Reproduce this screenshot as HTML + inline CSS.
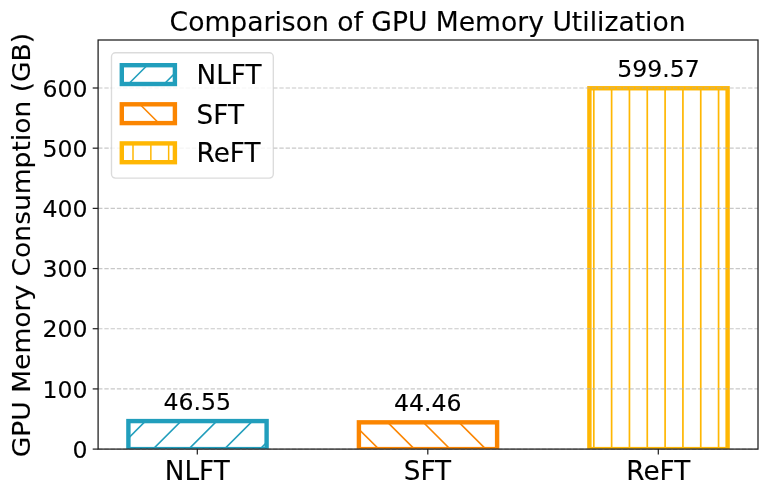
<!DOCTYPE html>
<html lang="en">
<head>
<meta charset="utf-8">
<title>Comparison of GPU Memory Utilization</title>
<style>
html,body{margin:0;padding:0;background:#fff;}
body{width:768px;height:496px;overflow:hidden;}
svg{display:block;}
</style>
</head>
<body>
<svg width="768" height="496" viewBox="0 0 768 496">
<rect width="768" height="496" fill="#fff"/>
<defs>
<clipPath id="ax"><rect x="98.1" y="40.0" width="659.9" height="409.1"/></clipPath>
</defs>
<g clip-path="url(#ax)">
<clipPath id="b0"><rect x="128.40" y="421.08" width="138.20" height="28.02"/></clipPath>
<rect x="128.40" y="421.08" width="138.20" height="28.02" fill="#fff"/>
<g clip-path="url(#b0)" stroke="#219ebc" stroke-width="1.6" fill="none">
<line x1="76.80" y1="454.10" x2="114.82" y2="416.08"/>
<line x1="112.45" y1="454.10" x2="150.47" y2="416.08"/>
<line x1="148.10" y1="454.10" x2="186.12" y2="416.08"/>
<line x1="183.75" y1="454.10" x2="221.77" y2="416.08"/>
<line x1="219.40" y1="454.10" x2="257.42" y2="416.08"/>
<line x1="255.05" y1="454.10" x2="293.07" y2="416.08"/>
<line x1="290.70" y1="454.10" x2="328.72" y2="416.08"/>
</g>
<rect x="128.40" y="421.08" width="138.20" height="28.02" fill="none" stroke="#219ebc" stroke-width="4.4"/>
<clipPath id="b1"><rect x="358.90" y="422.34" width="138.20" height="26.76"/></clipPath>
<rect x="358.90" y="422.34" width="138.20" height="26.76" fill="#fff"/>
<g clip-path="url(#b1)" stroke="#fb8500" stroke-width="1.6" fill="none">
<line x1="311.39" y1="417.34" x2="348.15" y2="454.10"/>
<line x1="347.04" y1="417.34" x2="383.80" y2="454.10"/>
<line x1="382.69" y1="417.34" x2="419.45" y2="454.10"/>
<line x1="418.34" y1="417.34" x2="455.10" y2="454.10"/>
<line x1="453.99" y1="417.34" x2="490.75" y2="454.10"/>
<line x1="489.64" y1="417.34" x2="526.40" y2="454.10"/>
<line x1="525.29" y1="417.34" x2="562.05" y2="454.10"/>
</g>
<rect x="358.90" y="422.34" width="138.20" height="26.76" fill="none" stroke="#fb8500" stroke-width="4.4"/>
<clipPath id="b2"><rect x="589.40" y="88.26" width="138.20" height="360.84"/></clipPath>
<rect x="589.40" y="88.26" width="138.20" height="360.84" fill="#fff"/>
<g clip-path="url(#b2)" stroke="#ffb703" stroke-width="1.7" fill="none">
<line x1="575.97" y1="83.26" x2="575.97" y2="454.10"/>
<line x1="593.80" y1="83.26" x2="593.80" y2="454.10"/>
<line x1="611.62" y1="83.26" x2="611.62" y2="454.10"/>
<line x1="629.45" y1="83.26" x2="629.45" y2="454.10"/>
<line x1="647.27" y1="83.26" x2="647.27" y2="454.10"/>
<line x1="665.10" y1="83.26" x2="665.10" y2="454.10"/>
<line x1="682.92" y1="83.26" x2="682.92" y2="454.10"/>
<line x1="700.75" y1="83.26" x2="700.75" y2="454.10"/>
<line x1="718.57" y1="83.26" x2="718.57" y2="454.10"/>
<line x1="736.40" y1="83.26" x2="736.40" y2="454.10"/>
</g>
<rect x="589.40" y="88.26" width="138.20" height="360.84" fill="none" stroke="#ffb703" stroke-width="4.4"/>
</g>
<g stroke="#b0b0b0" stroke-opacity="0.7" stroke-width="1.18" stroke-dasharray="4.36 1.89" fill="none">
<line x1="98.1" y1="449.10" x2="758.0" y2="449.10"/>
<line x1="98.1" y1="388.92" x2="758.0" y2="388.92"/>
<line x1="98.1" y1="328.73" x2="758.0" y2="328.73"/>
<line x1="98.1" y1="268.55" x2="758.0" y2="268.55"/>
<line x1="98.1" y1="208.37" x2="758.0" y2="208.37"/>
<line x1="98.1" y1="148.18" x2="758.0" y2="148.18"/>
<line x1="98.1" y1="88.00" x2="758.0" y2="88.00"/>
</g>
<rect x="98.1" y="40.0" width="659.9" height="409.1" fill="none" stroke="#1c1c1c" stroke-width="1.25"/>
<g stroke="#1c1c1c" stroke-width="1.2">
<line x1="92.69999999999999" y1="449.10" x2="98.1" y2="449.10"/>
<line x1="92.69999999999999" y1="388.92" x2="98.1" y2="388.92"/>
<line x1="92.69999999999999" y1="328.73" x2="98.1" y2="328.73"/>
<line x1="92.69999999999999" y1="268.55" x2="98.1" y2="268.55"/>
<line x1="92.69999999999999" y1="208.37" x2="98.1" y2="208.37"/>
<line x1="92.69999999999999" y1="148.18" x2="98.1" y2="148.18"/>
<line x1="92.69999999999999" y1="88.00" x2="98.1" y2="88.00"/>
<line x1="197.30" y1="449.1" x2="197.30" y2="454.5"/>
<line x1="427.80" y1="449.1" x2="427.80" y2="454.5"/>
<line x1="658.30" y1="449.1" x2="658.30" y2="454.5"/>
</g>
<g font-family="'DejaVu Sans', 'Liberation Sans', sans-serif" fill="#000" stroke="#000" stroke-width="0.12">
<text transform="translate(427.6,31.35) scale(1.031,1)" font-size="25.8" text-anchor="middle">Comparison of GPU Memory Utilization</text>
<text transform="translate(30.35,245.0) rotate(-90) scale(1.037,1)" font-size="25.6" text-anchor="middle">GPU Memory Consumption (GB)</text>
<text x="87.5" y="457.70" font-size="23.6" text-anchor="end">0</text>
<text x="87.5" y="397.52" font-size="23.6" text-anchor="end">100</text>
<text x="87.5" y="337.33" font-size="23.6" text-anchor="end">200</text>
<text x="87.5" y="277.15" font-size="23.6" text-anchor="end">300</text>
<text x="87.5" y="216.97" font-size="23.6" text-anchor="end">400</text>
<text x="87.5" y="156.78" font-size="23.6" text-anchor="end">500</text>
<text x="87.5" y="96.60" font-size="23.6" text-anchor="end">600</text>
<text transform="translate(197.30,480.0) scale(1.01,1)" font-size="26.0" text-anchor="middle">NLFT</text>
<text x="197.20" y="410.48" font-size="23.6" text-anchor="middle">46.55</text>
<text transform="translate(427.40,480.0) scale(1.01,1)" font-size="26.0" text-anchor="middle">SFT</text>
<text x="427.80" y="410.64" font-size="23.6" text-anchor="middle">44.46</text>
<text transform="translate(658.30,480.0) scale(1.01,1)" font-size="26.0" text-anchor="middle">ReFT</text>
<text x="658.50" y="77.06" font-size="23.6" text-anchor="middle">599.57</text>
</g>
<rect x="111.5" y="52.7" width="161.8" height="125.4" rx="4" ry="4" fill="#fff" fill-opacity="0.8" stroke="#ccc" stroke-opacity="0.7" stroke-width="1.35"/>
<clipPath id="l0"><rect x="121.8" y="65.20" width="53.10" height="18.8"/></clipPath>
<rect x="121.8" y="65.20" width="53.10" height="18.8" fill="#fff"/>
<g clip-path="url(#l0)" stroke="#219ebc" stroke-width="1.5" fill="none">
<line x1="123.50" y1="89.00" x2="152.30" y2="60.20"/>
<line x1="159.15" y1="89.00" x2="187.95" y2="60.20"/>
<line x1="87.85" y1="89.00" x2="116.65" y2="60.20"/>
</g>
<rect x="121.8" y="65.20" width="53.10" height="18.8" fill="none" stroke="#219ebc" stroke-width="4.4"/>
<text transform="translate(196.6,84.25) scale(1.022,1)" font-family="'DejaVu Sans', 'Liberation Sans', sans-serif" font-size="25.7" fill="#000" stroke="#000" stroke-width="0.12">NLFT</text>
<clipPath id="l1"><rect x="121.8" y="104.30" width="53.10" height="18.8"/></clipPath>
<rect x="121.8" y="104.30" width="53.10" height="18.8" fill="#fff"/>
<g clip-path="url(#l1)" stroke="#fb8500" stroke-width="1.5" fill="none">
<line x1="134.90" y1="99.30" x2="163.70" y2="128.10"/>
<line x1="170.55" y1="99.30" x2="199.35" y2="128.10"/>
<line x1="99.25" y1="99.30" x2="128.05" y2="128.10"/>
</g>
<rect x="121.8" y="104.30" width="53.10" height="18.8" fill="none" stroke="#fb8500" stroke-width="4.4"/>
<text transform="translate(196.6,123.60) scale(1.022,1)" font-family="'DejaVu Sans', 'Liberation Sans', sans-serif" font-size="25.7" fill="#000" stroke="#000" stroke-width="0.12">SFT</text>
<clipPath id="l2"><rect x="121.8" y="143.40" width="53.10" height="18.8"/></clipPath>
<rect x="121.8" y="143.40" width="53.10" height="18.8" fill="#fff"/>
<g clip-path="url(#l2)" stroke="#ffb703" stroke-width="1.5" fill="none">
<line x1="133.0" y1="138.40" x2="133.0" y2="167.20"/>
<line x1="150.85" y1="138.40" x2="150.85" y2="167.20"/>
<line x1="168.65" y1="138.40" x2="168.65" y2="167.20"/>
</g>
<rect x="121.8" y="143.40" width="53.10" height="18.8" fill="none" stroke="#ffb703" stroke-width="4.4"/>
<text transform="translate(196.6,162.30) scale(1.022,1)" font-family="'DejaVu Sans', 'Liberation Sans', sans-serif" font-size="25.7" fill="#000" stroke="#000" stroke-width="0.12">ReFT</text>
</svg>
</body>
</html>
